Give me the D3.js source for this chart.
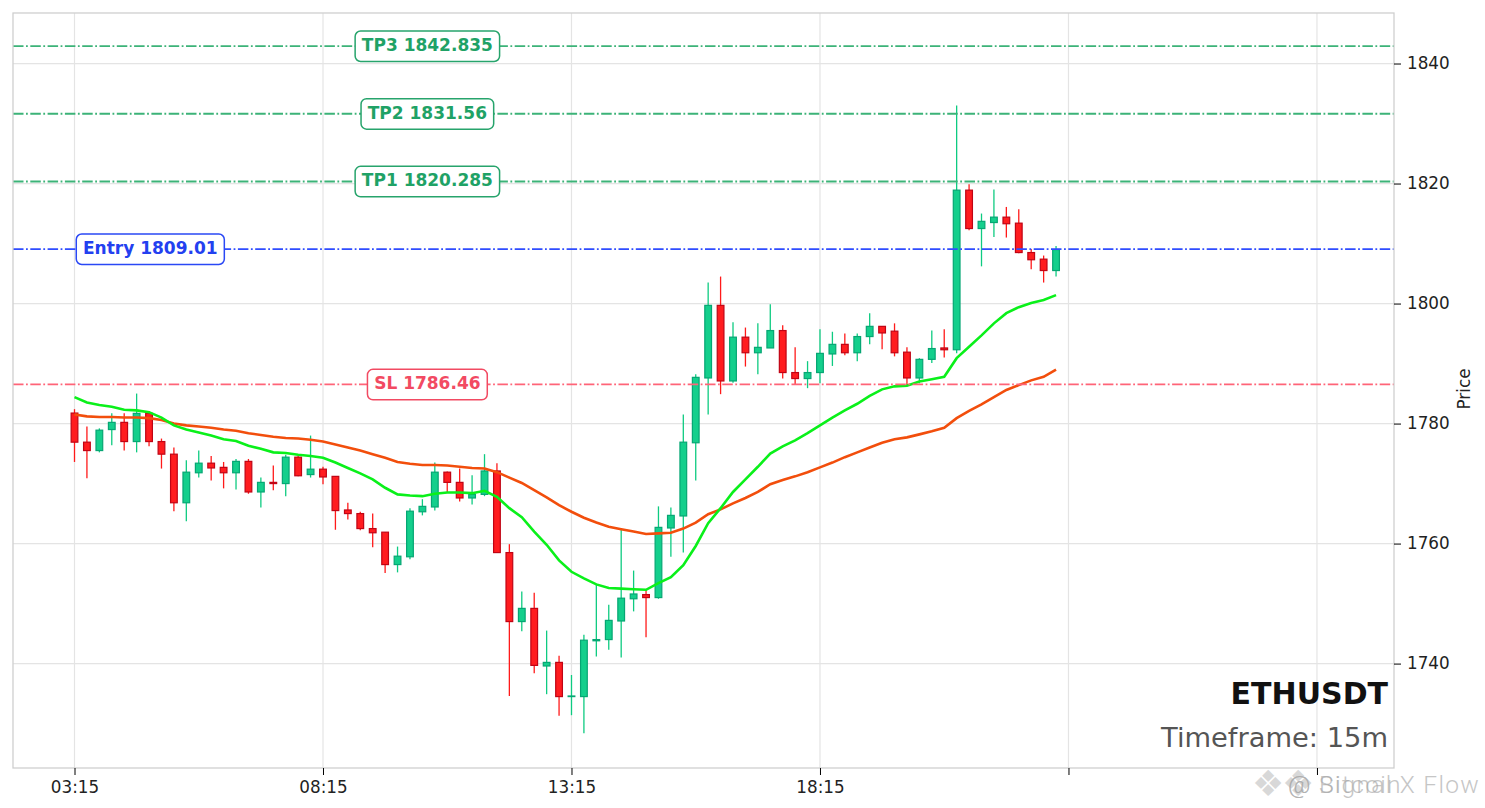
<!DOCTYPE html>
<html>
<head>
<meta charset="utf-8">
<script src="https://cdn.jsdelivr.net/npm/d3@7"></script>
<style>
   html, body { margin: 0; padding: 0; background: #fff; overflow: hidden; }
   text { font-family: "DejaVu Sans", sans-serif; }
</style>
</head>
<body>
<div class="chart-container"></div>
<script>
// open/high/low/close, one entry per 15m candle
const opens = [
   1781.75, 1776.9, 1775.5, 1779.0, 1780.2, 1777.0, 1781.7, 1777.0, 1774.9, 1766.8,
   1771.8, 1773.4, 1772.7, 1771.8, 1773.7, 1768.6, 1770.2, 1770.0, 1774.4, 1771.5,
   1772.4, 1771.2, 1765.6, 1765.0, 1762.5, 1761.9, 1756.5, 1757.8, 1765.3, 1766.1,
   1771.9, 1770.2, 1767.6, 1768.2, 1772.1, 1758.5, 1747.0, 1749.2, 1739.6, 1740.2,
   1734.5, 1734.5, 1743.8, 1744.0, 1747.1, 1750.8, 1751.5, 1751.0, 1762.6, 1764.6,
   1776.8, 1787.6, 1799.7, 1787.1, 1794.4, 1791.8, 1792.6, 1795.5, 1788.5, 1787.5,
   1788.5, 1791.6, 1793.2, 1791.8, 1794.5, 1796.2, 1795.4, 1791.9, 1787.6, 1790.7,
   1792.6, 1792.3, 1818.9, 1812.5, 1813.5, 1814.4, 1813.4, 1808.5, 1807.4, 1805.5
];
const closes = [
   1776.9, 1775.5, 1778.9, 1780.2, 1777.0, 1781.7, 1777.0, 1774.9, 1766.8, 1771.9,
   1773.4, 1772.6, 1771.8, 1773.7, 1768.6, 1770.2, 1770.0, 1774.4, 1771.3, 1772.4,
   1771.1, 1765.5, 1765.0, 1762.5, 1761.8, 1756.5, 1757.9, 1765.4, 1766.2, 1771.9,
   1770.2, 1767.6, 1768.2, 1772.1, 1758.5, 1747.0, 1749.2, 1739.7, 1740.2, 1734.5,
   1734.6, 1743.9, 1744.0, 1747.2, 1750.9, 1751.6, 1751.0, 1762.7, 1764.7, 1776.9,
   1787.7, 1799.7, 1787.1, 1794.4, 1791.8, 1792.7, 1795.5, 1788.5, 1787.5, 1788.5,
   1791.7, 1793.2, 1791.8, 1794.5, 1796.2, 1795.1, 1791.8, 1787.6, 1790.7, 1792.5,
   1792.3, 1818.9, 1812.5, 1813.7, 1814.4, 1813.3, 1808.5, 1807.3, 1805.5, 1809.0
];
const highs = [
   1782.4, 1779.5, 1779.2, 1781.7, 1781.7, 1785.0, 1782.1, 1777.5, 1776.0, 1773.9,
   1775.5, 1774.6, 1773.6, 1774.1, 1774.1, 1771.0, 1773.0, 1774.8, 1774.6, 1778.0,
   1772.8, 1771.2, 1766.8, 1765.3, 1765.0, 1761.9, 1759.5, 1765.9, 1767.4, 1773.5,
   1772.0, 1772.5, 1771.4, 1774.9, 1773.4, 1759.9, 1752.0, 1751.8, 1745.5, 1741.3,
   1738.1, 1744.8, 1753.1, 1749.8, 1762.4, 1755.5, 1752.3, 1766.2, 1766.0, 1781.5,
   1788.2, 1803.5, 1804.5, 1796.9, 1796.0, 1796.7, 1799.9, 1796.4, 1792.7, 1790.4,
   1795.7, 1795.3, 1795.0, 1795.0, 1798.4, 1796.2, 1796.7, 1792.7, 1790.9, 1795.5,
   1795.7, 1833.0, 1819.9, 1815.0, 1819.0, 1816.1, 1815.7, 1809.1, 1808.0, 1809.6
];
const lows = [
   1773.6, 1770.9, 1775.2, 1776.4, 1775.5, 1775.2, 1776.2, 1772.5, 1765.4, 1763.7,
   1771.0, 1770.5, 1769.2, 1769.0, 1768.3, 1766.0, 1768.9, 1767.9, 1771.2, 1771.0,
   1769.9, 1762.3, 1764.0, 1762.2, 1759.4, 1755.1, 1755.2, 1757.4, 1764.7, 1765.5,
   1768.6, 1767.0, 1766.5, 1767.9, 1758.5, 1734.6, 1745.4, 1738.4, 1734.9, 1731.3,
   1731.4, 1728.4, 1741.2, 1742.3, 1741.0, 1748.7, 1744.4, 1750.8, 1757.8, 1758.5,
   1770.5, 1781.5, 1784.9, 1786.8, 1789.5, 1788.2, 1792.6, 1787.5, 1786.6, 1785.9,
   1786.7, 1789.6, 1791.4, 1790.4, 1793.2, 1792.4, 1791.2, 1786.4, 1786.7, 1790.1,
   1791.0, 1791.7, 1812.2, 1806.2, 1811.1, 1811.0, 1808.4, 1805.7, 1803.5, 1804.5
];
const fast_ema = [
   1784.4, 1783.5, 1783.1, 1782.8, 1782.3, 1782.2, 1781.9, 1781.0, 1779.7, 1779.0,
   1778.5, 1778.0, 1777.4, 1777.1, 1776.3, 1775.8, 1775.2, 1775.1, 1774.8, 1774.6,
   1774.3, 1773.5, 1772.6, 1771.7, 1770.7, 1769.3, 1768.2, 1768.0, 1767.9, 1768.3,
   1768.5, 1768.5, 1768.4, 1768.8, 1767.8, 1765.9, 1764.4, 1762.0, 1759.8, 1757.2,
   1755.3, 1754.2, 1753.2, 1752.6, 1752.5, 1752.4, 1752.3, 1753.4, 1754.4, 1756.4,
   1759.6, 1763.4, 1765.9, 1768.6, 1770.7, 1772.8, 1775.0, 1776.2, 1777.2, 1778.4,
   1779.7, 1781.0, 1782.2, 1783.3, 1784.6, 1785.7, 1786.2, 1786.3, 1787.0, 1787.4,
   1787.8, 1790.9, 1792.8, 1794.7, 1796.7, 1798.4, 1799.4, 1800.1, 1800.6, 1801.4
];
const slow_ema = [
   1781.5, 1781.2, 1781.1, 1781.1, 1781.0, 1781.0, 1780.9, 1780.6, 1780.0, 1779.7,
   1779.5, 1779.3, 1779.0, 1778.8, 1778.4, 1778.1, 1777.8, 1777.6, 1777.5, 1777.3,
   1777.0, 1776.5, 1776.0, 1775.5, 1774.9, 1774.3, 1773.6, 1773.3, 1773.1, 1773.1,
   1773.0, 1772.8, 1772.6, 1772.5, 1771.9, 1771.0, 1770.1, 1768.9, 1767.7, 1766.4,
   1765.3, 1764.3, 1763.5, 1762.8, 1762.4, 1762.0, 1761.6, 1761.7, 1761.8, 1762.5,
   1763.5, 1764.9, 1765.7, 1766.7, 1767.6, 1768.6, 1769.9, 1770.6, 1771.2, 1771.9,
   1772.7, 1773.5, 1774.4, 1775.2, 1776.0, 1776.8, 1777.4, 1777.7, 1778.2, 1778.7,
   1779.3, 1780.9, 1782.1, 1783.2, 1784.4, 1785.6, 1786.4, 1787.2, 1787.8, 1789.0
];

const level_names = ['TP3', 'TP2', 'TP1', 'Entry', 'SL'];
const level_values = [1842.835, 1831.56, 1820.285, 1809.01, 1786.46];
const level_label_at = [28.4, 28.4, 28.4, 6.1, 28.4];

const price_ticks = [1740, 1760, 1780, 1800, 1820, 1840];
const time_ticks = [0, 20, 40, 60, 80, 100];
const time_labels = ['03:15', '08:15', '13:15', '18:15', '', ''];

const width = 1485, height = 808;
const frame = {left: 13, right: 1394, top: 13, bottom: 768};

function level_style(name) {
   if (name === 'Entry') return {line: '#2f4cff', text: '#2340f0', border: '#2a48f5'};
   if (name === 'SL') return {line: '#ff6478', text: '#f24a62', border: '#f24a62'};
   return {line: '#3cb378', text: '#1fa266', border: '#27a46c'};
}

function build_chart() {
   const xScale = d3.scaleLinear().domain([-4.95, 106.2]).range([frame.left, frame.right]);
   const yScale = d3.scaleLinear().domain([1722.6, 1848.42]).range([frame.bottom, frame.top]);
   const barWidth = xScale(0.54) - xScale(0);

   const svg = d3.select('.chart-container')
      .append('svg')
      .attr('width', width)
      .attr('height', height)
      .style('display', 'block');

   // grid
   svg.append('g').selectAll('line').data(price_ticks).enter().append('line')
      .attr('x1', frame.left).attr('x2', frame.right)
      .attr('y1', d => yScale(d)).attr('y2', d => yScale(d))
      .attr('stroke', '#e4e4e4').attr('stroke-width', 1.2);
   svg.append('g').selectAll('line').data(time_ticks).enter().append('line')
      .attr('x1', d => xScale(d)).attr('x2', d => xScale(d))
      .attr('y1', frame.top).attr('y2', frame.bottom)
      .attr('stroke', '#e4e4e4').attr('stroke-width', 1.2);

   // candles
   const candles = d3.range(opens.length);
   const isUp = i => closes[i] >= opens[i];
   svg.append('g').selectAll('line').data(candles).enter().append('line')
      .attr('x1', i => xScale(i)).attr('x2', i => xScale(i))
      .attr('y1', i => yScale(highs[i])).attr('y2', i => yScale(lows[i]))
      .attr('stroke', i => isUp(i) ? '#0ecb81' : '#ff1a1a')
      .attr('stroke-width', 1.3);
   svg.append('g').selectAll('rect').data(candles).enter().append('rect')
      .attr('x', i => xScale(i) - barWidth / 2)
      .attr('width', barWidth)
      .attr('y', i => yScale(Math.max(opens[i], closes[i])))
      .attr('height', i => Math.abs(yScale(opens[i]) - yScale(closes[i])))
      .attr('fill', i => isUp(i) ? '#14cf8c' : '#ff1c1f')
      .attr('stroke', i => isUp(i) ? '#06a673' : '#c00414')
      .attr('stroke-width', 1.2);

   // moving averages
   const line = d3.line().x((d, i) => xScale(i)).y(d => yScale(d));
   svg.append('path').attr('d', line(slow_ema))
      .attr('fill', 'none').attr('stroke', '#f24e0c').attr('stroke-width', 2.6);
   svg.append('path').attr('d', line(fast_ema))
      .attr('fill', 'none').attr('stroke', '#0af01a').attr('stroke-width', 2.6);

   // trade levels
   svg.append('g').selectAll('line').data(level_values).enter().append('line')
      .attr('x1', frame.left).attr('x2', frame.right)
      .attr('y1', d => yScale(d) - 0.4).attr('y2', d => yScale(d) - 0.4)
      .attr('stroke', (d, i) => level_style(level_names[i]).line)
      .attr('stroke-width', 1.9)
      .attr('stroke-dasharray', '10.5 2.5 1.8 2.5');

   level_values.forEach((v, i) => {
      const style = level_style(level_names[i]);
      const g = svg.append('g');
      const box = g.append('rect');
      const label = g.append('text')
         .attr('x', xScale(level_label_at[i]))
         .attr('y', yScale(v) + 4.5)
         .attr('text-anchor', 'middle')
         .attr('font-size', 17)
         .attr('font-weight', 'bold')
         .attr('fill', style.text)
         .text(`${level_names[i]} ${v}`);
      const b = label.node().getBBox();
      box.attr('x', b.x - 6.7).attr('width', b.width + 13.4)
         .attr('y', yScale(v) - 15.5).attr('height', 30.5)
         .attr('rx', 5.5).attr('ry', 5.5)
         .attr('fill', '#fff')
         .attr('stroke', style.border)
         .attr('stroke-width', 1.5);
   });

   // frame
   svg.append('rect')
      .attr('x', frame.left).attr('y', frame.top)
      .attr('width', frame.right - frame.left)
      .attr('height', frame.bottom - frame.top)
      .attr('fill', 'none').attr('stroke', '#cfcfcf').attr('stroke-width', 1.3);

   // axes
   const yAxis = d3.axisRight(yScale)
      .tickValues(price_ticks)
      .tickFormat(d3.format('d'))
      .tickSizeInner(7).tickSizeOuter(0).tickPadding(6);
   const yAxisDraw = svg.append('g')
      .attr('transform', `translate(${frame.right}, 0)`)
      .call(yAxis);
   yAxisDraw.select('.domain').remove();
   yAxisDraw.selectAll('text').attr('font-size', 16.8).attr('fill', '#222')
      .style('font-family', '"DejaVu Sans", sans-serif');

   const xAxis = d3.axisBottom(xScale)
      .tickValues(time_ticks)
      .tickFormat((d, i) => time_labels[i])
      .tickSizeInner(7).tickSizeOuter(0).tickPadding(6);
   const xAxisDraw = svg.append('g')
      .attr('transform', `translate(0, ${frame.bottom})`)
      .call(xAxis);
   xAxisDraw.select('.domain').remove();
   xAxisDraw.selectAll('text').attr('font-size', 16.8).attr('fill', '#222')
      .style('font-family', '"DejaVu Sans", sans-serif');

   svg.append('text')
      .attr('transform', 'translate(1470, 389) rotate(-90)')
      .attr('text-anchor', 'middle')
      .attr('font-size', 16.8)
      .attr('fill', '#222')
      .text('Price');

   // symbol block
   svg.append('text')
      .attr('x', 1388).attr('y', 704)
      .attr('text-anchor', 'end')
      .attr('font-size', 30)
      .attr('font-weight', 'bold')
      .attr('fill', '#111')
      .text('ETHUSDT');
   svg.append('text')
      .attr('x', 1388).attr('y', 747)
      .attr('text-anchor', 'end')
      .attr('font-size', 27.3)
      .attr('fill', '#555')
      .text('Timeframe: 15m');

   // watermark, two stamps on top of each other like in the screenshot
   const stamp_font = '"Roboto", "DejaVu Sans", sans-serif';
   [['❖', 1252], ['❖', 1282]].forEach(d => {
      svg.append('text').attr('x', d[1]).attr('y', 796)
         .attr('fill', '#d8d8d8').attr('font-size', 36).text(d[0]);
   });
   [['@ Bitcoin', 1288], ['@ Signal X Flow', 1288]].forEach(d => {
      svg.append('text').attr('x', d[1]).attr('y', 793)
         .attr('fill', '#a8a8a8').attr('opacity', 0.65)
         .attr('font-size', 24.5).attr('font-weight', 300)
         .attr('letter-spacing', 1.3)
         .style('font-family', stamp_font)
         .text(d[0]);
   });
}

build_chart();
</script>
</body>
</html>
